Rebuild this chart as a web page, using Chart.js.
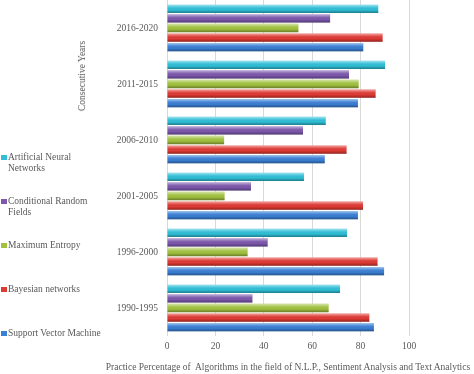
<!DOCTYPE html>
<html lang="en">
<head>
  <meta charset="UTF-8" />
  <title>Practice Percentage of Algorithms</title>
  <style>
    body { margin: 0; background: #fff; font-family: "Liberation Serif", "DejaVu Serif", serif; }
    .wrap { position: relative; width: 474px; height: 374px; }
    canvas { position: absolute; left: 0; top: 0; }
    .ytitle { position: absolute; left: 82px; top: 76px; transform: translate(-50%, -50%) rotate(-90deg);
              white-space: nowrap; font-size: 9.5px; color: #595959; }
    .xtitle { position: absolute; left: 288px; top: 367px; transform: translate(-50%, -50%);
              white-space: nowrap; font-size: 9.5px; color: #595959; }
    .legend-item { position: absolute; left: 8px; width: 100px; font-size: 9.5px; line-height: 11px; color: #595959; }
    .legend-item .box { position: absolute; left: -7px; top: 3px; width: 6px; height: 5px; }
  </style>
</head>
<body>
  <div class="wrap">
    <canvas id="chart" width="474" height="374"></canvas>
    <div class="ytitle">Consecutive Years</div>
    <div class="xtitle">Practice Percentage of&nbsp; Algorithms in the field of N.L.P., Sentiment Analysis and Text Analytics</div>
    <div id="legend"></div>
  </div>

  <script src="https://cdn.jsdelivr.net/npm/chart.js"></script>
  <script>
    // periods, top to bottom as drawn
    const periods = ['2016-2020', '2011-2015', '2006-2010', '2001-2005', '1996-2000', '1990-1995'];

    const annValues    = [87.3, 90.1, 65.6, 56.6, 74.4, 71.5];
    const crfValues    = [67.4, 75.2, 56.2, 34.7, 41.6, 35.3];
    const maxEntValues = [54.3, 79.2, 23.6, 23.8, 33.3, 66.8];
    const bayesValues  = [89.1, 86.2, 74.2, 81.0, 87.0, 83.6];
    const svmValues    = [81.1, 78.9, 65.2, 78.9, 89.7, 85.5];

    const seriesNames = ['Artificial Neural Networks', 'Conditional Random Fields', 'Maximum Entropy', 'Bayesian networks', 'Support Vector Machine'];
    const seriesColors = ['#2fc0d8', '#7d58ad', '#a2c23f', '#e03a34', '#3a7fd6'];
    const xTicks = [0, 20, 40, 60, 80, 100];

    const allValues = [annValues, crfValues, maxEntValues, bayesValues, svmValues];

    // legend on the left, one entry per series
    const legendTops = [152, 196, 240, 284, 328];
    const legend = document.getElementById('legend');
    seriesNames.forEach((name, i) => {
      const item = document.createElement('div');
      item.className = 'legend-item';
      item.style.top = legendTops[i] + 'px';
      item.innerHTML = `<span class="box" style="background:${seriesColors[i]}"></span>${name}`;
      legend.appendChild(item);
    });

    // glossy shading on top of each bar
    const barShade = {
      id: 'barShade',
      afterDatasetsDraw(chart) {
        const ctx = chart.ctx;
        chart.data.datasets.forEach((ds, di) => {
          chart.getDatasetMeta(di).data.forEach(bar => {
            const top = bar.y - bar.height / 2;
            const g = ctx.createLinearGradient(0, top, 0, top + bar.height);
            g.addColorStop(0, 'rgba(255,255,255,0.55)');
            g.addColorStop(0.3, 'rgba(255,255,255,0.15)');
            g.addColorStop(0.6, 'rgba(0,0,0,0)');
            g.addColorStop(1, 'rgba(0,0,0,0.35)');
            ctx.save();
            ctx.fillStyle = g;
            ctx.fillRect(bar.base, top, bar.x - bar.base, bar.height);
            ctx.restore();
          });
        });
      }
    };

    new Chart(document.getElementById('chart'), {
      type: 'bar',
      data: {
        labels: periods,
        datasets: seriesNames.map((name, i) => ({
          label: name,
          data: allValues[i],
          backgroundColor: seriesColors[i],
          borderWidth: 0,
          barPercentage: 0.875,
          categoryPercentage: 0.856
        }))
      },
      options: {
        indexAxis: 'y',
        responsive: false,
        animation: false,
        layout: { padding: { left: 0, right: 65, top: 0, bottom: 0 } },
        plugins: { legend: { display: false }, tooltip: { enabled: false } },
        scales: {
          x: {
            min: 0, max: 100,
            afterBuildTicks: s => { s.ticks = xTicks.map(v => ({ value: v })); },
            afterFit: s => { s.height = 38; },
            grid: { color: '#d9d9d9', drawTicks: false },
            border: { display: false },
            ticks: { padding: 5, color: '#595959', font: { family: 'Liberation Serif', size: 9.5 } }
          },
          y: {
            afterFit: s => { s.width = 167; s.paddingTop = 0; s.paddingBottom = 0; },
            grid: { display: false, drawTicks: false },
            border: { display: false },
            ticks: { padding: 9, color: '#595959', font: { family: 'Liberation Serif', size: 9.5 } }
          }
        }
      },
      plugins: [barShade]
    });
  </script>
</body>
</html>
